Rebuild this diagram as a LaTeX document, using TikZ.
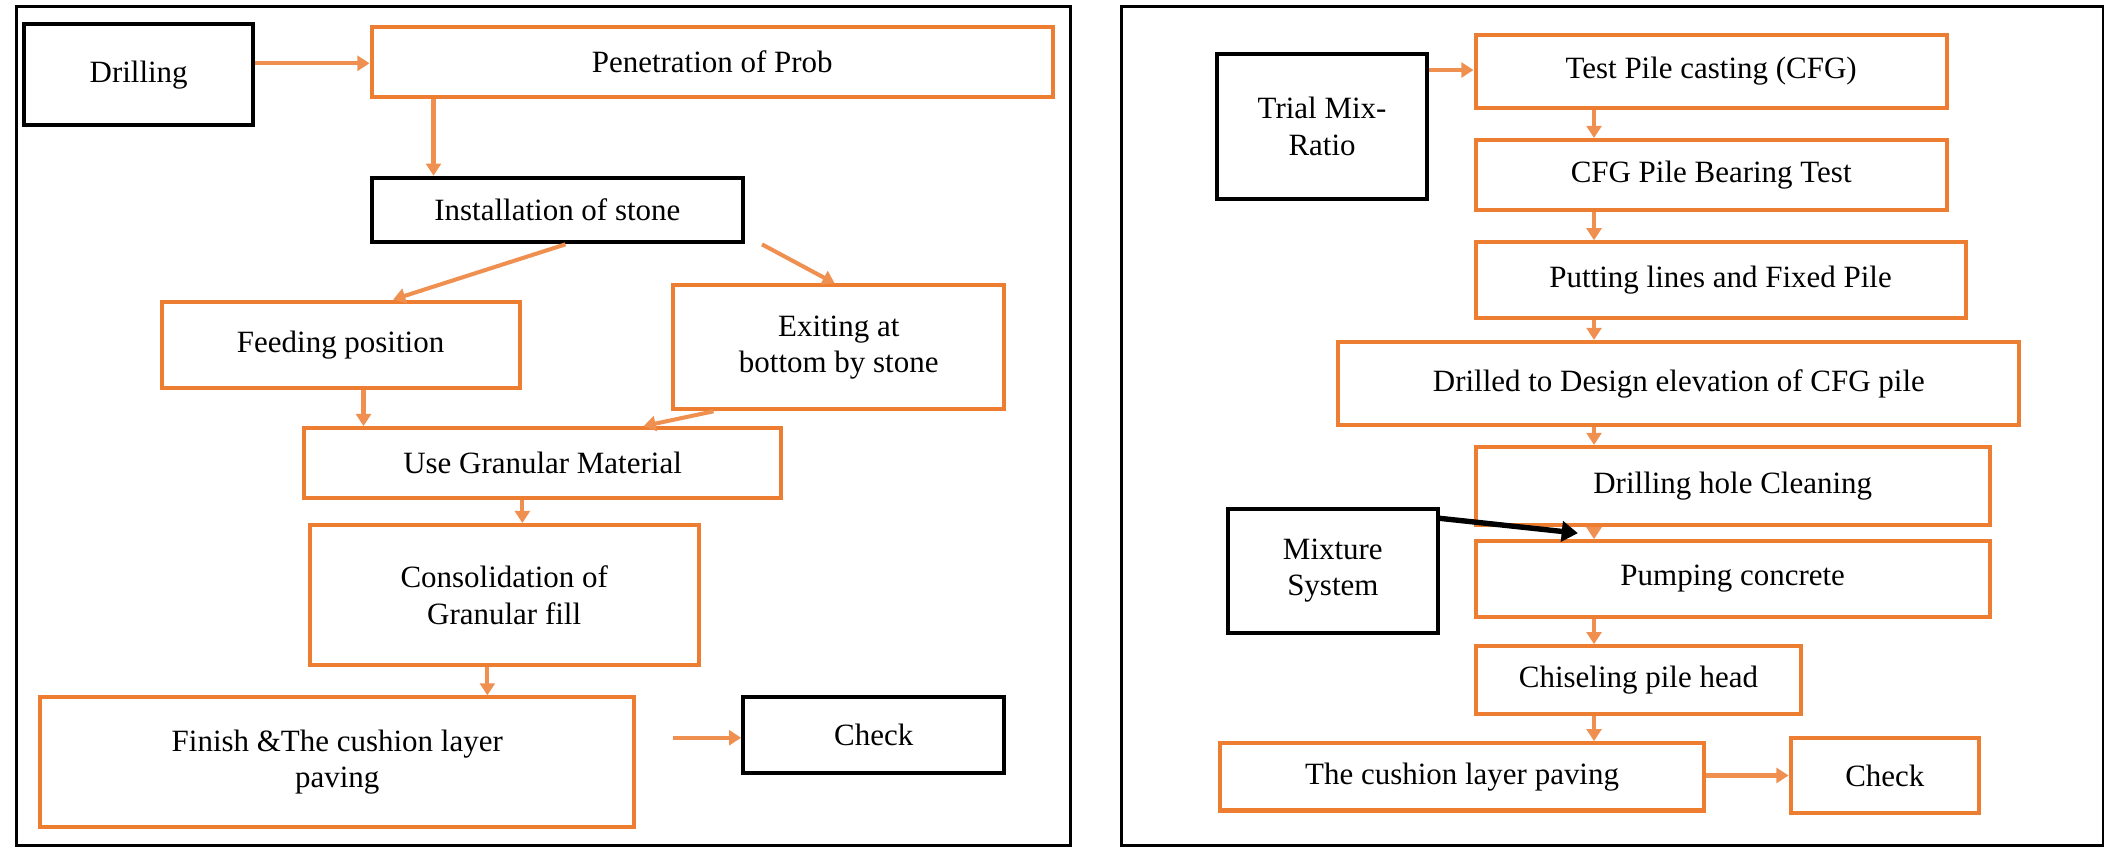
\documentclass[tikz,border=0pt]{standalone}
\usepackage{fontspec}
\setmainfont{Liberation Serif}
\newfontfamily\refserif{Liberation Serif}
\usetikzlibrary{arrows.meta}
\definecolor{org}{RGB}{237,125,49}
\begin{document}
\begin{tikzpicture}[x=1pt,y=-1pt,
  ob/.style={draw=org,line width=3pt,fill=white,align=center,inner sep=0pt},
  bb/.style={draw=black,line width=3pt,fill=white,align=center,inner sep=0pt},
  oa/.style={draw=org!85!white,line width=3pt,-{Triangle[length=9pt,width=11pt]}},
  ba/.style={draw=black,line width=4pt,-{Triangle[length=12pt,width=15pt]}},
  font=\refserif\fontsize{23}{27}\selectfont]
\useasboundingbox (0,0) rectangle (1568,630);
\draw[line width=2pt] (12,5) rectangle (795,628);
\draw[line width=2pt] (833,5) rectangle (1562,628);
% left
\newcommand{\bx}[6]{\node[#1,minimum width=#4-#2,minimum height=#5-#3] (#6) at ({(#2+#4)/2},{(#3+#5)/2}) {};}
\bx{bb}{18}{18}{188}{93}{dr}\node at (dr) {Drilling};
\bx{ob}{276}{20}{782}{72}{pen}\node at (pen) {Penetration of Prob};
\bx{bb}{276}{132}{552}{180}{ins}\node at (ins) {Installation of stone};
\bx{ob}{120}{224}{386}{288}{fee}\node at (fee) {Feeding position};
\bx{ob}{500}{212}{746}{304}{exi}\node[align=center] at (exi) {Exiting at\\bottom by stone};
\bx{ob}{226}{318}{580}{370}{use}\node at (use) {Use Granular Material};
\bx{ob}{230}{390}{519}{494}{con}\node[align=center] at (con) {Consolidation of\\Granular fill};
\bx{ob}{30}{518}{471}{614}{fin}\node[align=center] at (fin) {Finish \&The cushion layer\\paving};
\bx{bb}{552}{518}{746}{574}{chk}\node at (chk) {Check};
\draw[oa] (dr.east |- 0,47) -- (pen.west |- 0,47);
\draw[oa] (pen.south -| 322,0) -- (ins.north -| 322,0);
\draw[oa] (ins.south -| 420,0) -- (fee.north -| 292,0);
\draw[oa] (ins.south -| 566,0) -- (exi.north -| 620,0);
\draw[oa] (fee.south -| 270,0) -- (use.north -| 270,0);
\draw[oa] (exi.south -| 530,0) -- (use.north -| 478,0);
\draw[oa] (use.south -| 388,0) -- (con.north -| 388,0);
\draw[oa] (con.south -| 362,0) -- (fin.north -| 362,0);
\coordinate (fe) at (500,548);
\draw[oa] (fe) -- (chk.west |- fe);
% right
\bx{bb}{904}{40}{1060}{148}{tri}\node[align=center] at (tri) {Trial Mix-\\Ratio};
\bx{ob}{1096}{26}{1446}{80}{tes}\node at (tes) {Test Pile casting (CFG)};
\bx{ob}{1096}{104}{1446}{156}{bea}\node at (bea) {CFG Pile Bearing Test};
\bx{ob}{1096}{180}{1460}{236}{put}\node at (put) {Putting lines and Fixed Pile};
\bx{ob}{994}{254}{1500}{316}{dri}\node at (dri) {Drilled to Design elevation of CFG pile};
\bx{ob}{1096}{332}{1478}{390}{cle}\node at (cle) {Drilling hole Cleaning};
\bx{ob}{1096}{402}{1478}{458}{pum}\node at (pum) {Pumping concrete};
\bx{bb}{912}{378}{1068}{470}{mix}\node[align=center] at (mix) {Mixture\\System};
\bx{ob}{1096}{480}{1338}{530}{chi}\node at (chi) {Chiseling pile head};
\bx{ob}{906}{552}{1266}{602}{cus}\node at (cus) {The cushion layer paving};
\bx{ob}{1330}{548}{1470}{604}{ch2}\node at (ch2) {Check};
\draw[oa] (tri.north east |- 0,52) -- (tes.west |- 0,52);
\foreach \a/\b in {tes/bea,bea/put,put/dri,dri/cle,cle/pum,pum/chi,chi/cus}
  \draw[oa] (\a.south -| 1184,0) -- (\b.north -| 1184,0);
\coordinate (mt) at (1172,396);
\draw[ba] (mix.east |- 0,385) -- (mt);
\draw[oa] (cus.east |- 0,576) -- (ch2.west |- 0,576);
\end{tikzpicture}
\end{document}
